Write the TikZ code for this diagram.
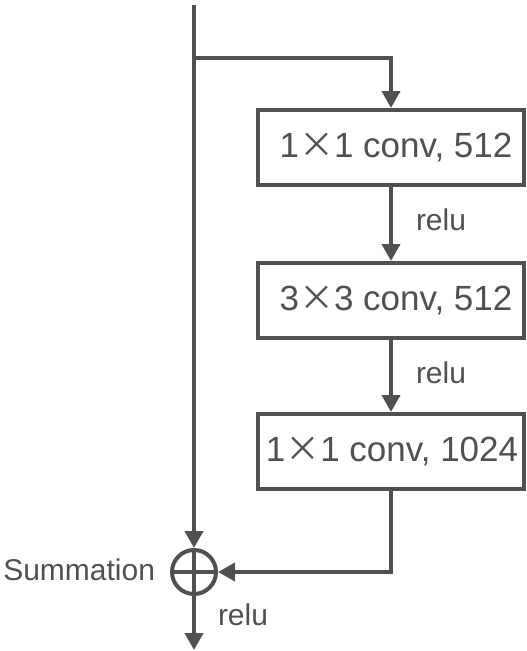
\documentclass[tikz,border=0pt]{standalone}
\usepackage{fontspec}
\setmainfont{Liberation Sans}
\newfontfamily\cjk{Noto Sans CJK SC}
\usetikzlibrary{arrows.meta}
\definecolor{dg}{HTML}{505050}
\newcommand{\tms}{{\cjk ×}}
\begin{document}
\begin{tikzpicture}[x=1pt,y=-1pt,
  line width=4pt, draw=dg,
  box/.style={draw=dg, line width=4pt, minimum width=266pt, minimum height=75pt, inner sep=0pt, font=\fontsize{35}{40}\selectfont, text=dg},
  lbl/.style={font=\fontsize{30}{34}\selectfont, text=dg, inner sep=0pt},
  arr/.style={-{Triangle[length=17pt,width=18pt]}, line width=4pt, draw=dg}]
\useasboundingbox (0,0) rectangle (527,651);
\node[box] (b1) at (391,147.5) {\hspace*{10pt}1\tms1 conv, 512};
\node[box] (b2) at (391,300.5) {\hspace*{10pt}3\tms3 conv, 512};
\node[box] (b3) at (391,451.5) {\hspace*{2pt}1\tms1 conv, 1024};
\node[circle, draw=dg, line width=4pt, minimum size=44pt, inner sep=0pt] (sum) at (194,572) {};
\draw[dg, line width=4pt] (sum.north) -- (sum.south) (sum.west) -- (sum.east);
\coordinate (top) at (194,5);
\coordinate (br) at (194,58);
\coordinate (out) at (194,650);
\draw[arr] (top) -- (sum.north);
\draw[arr, line cap=rect] (br) -| (b1.north);
\draw[arr] (b1.south) -- (b2.north);
\draw[arr] (b2.south) -- (b3.north);
\draw[arr] (b3.south) |- (sum.east);
\draw[arr] (sum.south) -- (out);
\node[lbl, anchor=west] (r1) at (414,220) {relu};
\node[lbl, anchor=west] (r2) at (414,373) {relu};
\node[lbl, anchor=west] (r3) at (216,615) {relu};
\node[lbl, anchor=east] (sl) at (157,570) {Summation};
\end{tikzpicture}
\end{document}
